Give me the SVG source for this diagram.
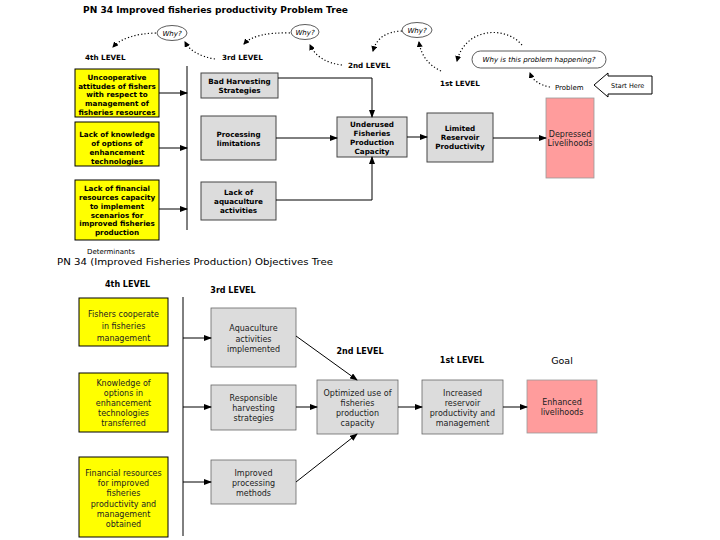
<svg xmlns="http://www.w3.org/2000/svg" width="720" height="540" viewBox="0 0 720 540">
<style>
text{font-family:"DejaVu Sans","Verdana",sans-serif;fill:#000}
.b{font-weight:bold;font-size:7.2px;text-anchor:middle}
.lv{font-weight:bold;font-size:7.2px}
.lv2{font-weight:bold;font-size:8px}
.n{font-size:8px;text-anchor:middle;fill:#222}
.it{font-style:italic;font-size:7px;text-anchor:middle}
.yel{fill:#ffff00;stroke:#000;stroke-width:1}
.gr{fill:#dcdcdc;stroke:#444;stroke-width:1}
.gr2{fill:#dcdcdc;stroke:#666;stroke-width:0.8}
.pk{fill:#ff9c9c;stroke:#999;stroke-width:0.8}
.ov{fill:#fff;stroke:#333;stroke-width:0.8}
.ln{fill:none;stroke:#000;stroke-width:1}
.dot{fill:none;stroke:#000;stroke-width:1.2;stroke-dasharray:1.2 2.2}
</style>
<defs>
<marker id="ah" markerWidth="8" markerHeight="6" refX="7" refY="3" orient="auto" markerUnits="userSpaceOnUse"><path d="M0,0 L8,3 L0,6 z" fill="#000"/></marker>
<marker id="dh" markerWidth="6" markerHeight="6" refX="5" refY="3" orient="auto" markerUnits="userSpaceOnUse"><path d="M0,0 L6,3 L0,6 z" fill="#000"/></marker>
</defs>

<text x="83" y="13" font-weight="bold" font-size="8.5" textLength="265" lengthAdjust="spacingAndGlyphs">PN 34 Improved fisheries productivity Problem Tree</text>

<g id="why1"><ellipse class="ov" cx="172" cy="33" rx="15" ry="7.5"/><text class="it" x="172" y="35.5">Why?</text></g>
<g id="why2"><ellipse class="ov" cx="305" cy="32" rx="14" ry="7.5"/><text class="it" x="305" y="34.5">Why?</text></g>
<g id="why3"><ellipse class="ov" cx="417" cy="30" rx="15" ry="7.5"/><text class="it" x="417" y="32.5">Why?</text></g>
<g id="why-main"><rect class="ov" x="472" y="51" width="134" height="17" rx="8.5"/><text class="it" x="539" y="62" font-size="7.3">Why is this problem happening?</text></g>

<text class="lv" x="85" y="60">4th LEVEL</text>
<text class="lv" x="222" y="60">3rd LEVEL</text>
<text class="lv" x="348" y="68">2nd LEVEL</text>
<text class="lv" x="440" y="86">1st LEVEL</text>
<text x="555" y="90" font-size="7">Problem</text>

<g id="start-here">
<path d="M594,85 L608,73 L608,76 L652,76 L652,94 L608,94 L608,97 z" fill="#fff" stroke="#000" stroke-width="1"/>
<text x="611" y="88" font-size="6.5">Start Here</text>
</g>

<g id="dotted">
<path class="dot" d="M215,59 Q192,55 185,42" marker-end="url(#dh)"/>
<path class="dot" d="M156,33 Q125,34 113,47" marker-end="url(#dh)"/>
<path class="dot" d="M342,65 Q318,62 310,45" marker-end="url(#dh)"/>
<path class="dot" d="M290,33 Q255,32 244,44" marker-end="url(#dh)"/>
<path class="dot" d="M441,71 Q422,62 419,42" marker-end="url(#dh)"/>
<path class="dot" d="M402,31 Q378,32 373,51" marker-end="url(#dh)"/>
<path class="dot" d="M522,45 C505,25 465,28 457,61" marker-end="url(#dh)"/>
<path class="dot" d="M550,87 Q534,84 530,73" marker-end="url(#dh)"/>
</g>

<g id="t-y1"><rect class="yel" x="75" y="69" width="84" height="48"/>
<text class="b" x="117" y="79.5">Uncooperative</text><text class="b" x="117" y="88.5">attitudes of fishers</text><text class="b" x="117" y="97">with respect to</text><text class="b" x="117" y="105.5">management of</text><text class="b" x="117" y="114.5">fisheries resources</text></g>
<g id="t-y2"><rect class="yel" x="75" y="122" width="84" height="44"/>
<text class="b" x="117" y="137">Lack of knowledge</text><text class="b" x="117" y="146">of options of</text><text class="b" x="117" y="155">enhancement</text><text class="b" x="117" y="164">technologies</text></g>
<g id="t-y3"><rect class="yel" x="75" y="180" width="84" height="60"/>
<text class="b" x="117" y="191">Lack of financial</text><text class="b" x="117" y="200">resources capacity</text><text class="b" x="117" y="209">to implement</text><text class="b" x="117" y="217.5">scenarios for</text><text class="b" x="117" y="226">improved fisheries</text><text class="b" x="117" y="235">production</text></g>

<g id="t-g1"><rect class="gr" x="201" y="73" width="77" height="25"/>
<text class="b" x="239.5" y="83.5">Bad Harvesting</text><text class="b" x="239.5" y="92.5">Strategies</text></g>
<g id="t-g2"><rect class="gr" x="201" y="116" width="75" height="44"/>
<text class="b" x="238.5" y="136.5">Processing</text><text class="b" x="238.5" y="145.5">limitations</text></g>
<g id="t-g3"><rect class="gr" x="201" y="182" width="75" height="38"/>
<text class="b" x="238.5" y="195">Lack of</text><text class="b" x="238.5" y="204">aquaculture</text><text class="b" x="238.5" y="213">activities</text></g>
<g id="t-under"><rect class="gr" x="337" y="117" width="70" height="40"/>
<text class="b" x="372" y="127">Underused</text><text class="b" x="372" y="136">Fisheries</text><text class="b" x="372" y="145">Production</text><text class="b" x="372" y="154">Capacity</text></g>
<g id="t-limited"><rect class="gr" x="427" y="113" width="66" height="49"/>
<text class="b" x="460" y="131">Limited</text><text class="b" x="460" y="140">Reservoir</text><text class="b" x="460" y="149">Productivity</text></g>
<g id="t-depressed"><rect class="pk" x="546" y="98" width="48" height="80"/>
<text class="n" x="570" y="137" font-size="7.5">Depressed</text><text class="n" x="570" y="146" font-size="7.5">Livelihoods</text></g>

<text x="87" y="254" font-size="7" fill="#222">Determinants</text>

<g id="top-connectors">
<line class="ln" x1="187" y1="66" x2="187" y2="230"/>
<line class="ln" x1="159" y1="93" x2="187" y2="93" marker-end="url(#ah)"/>
<line class="ln" x1="159" y1="148" x2="187" y2="148" marker-end="url(#ah)"/>
<line class="ln" x1="159" y1="209" x2="187" y2="209" marker-end="url(#ah)"/>
<path class="ln" d="M278,78 L372,78 L372,117" marker-end="url(#ah)"/>
<line class="ln" x1="276" y1="138" x2="337" y2="138" marker-end="url(#ah)"/>
<path class="ln" d="M276,200 L372,200 L372,157" marker-end="url(#ah)"/>
<line class="ln" x1="407" y1="137" x2="427" y2="137" marker-end="url(#ah)"/>
<line class="ln" x1="493" y1="138" x2="546" y2="138" marker-end="url(#ah)"/>
</g>

<text x="57" y="265" font-size="9.5" fill="#222" textLength="276" lengthAdjust="spacingAndGlyphs">PN 34 (Improved Fisheries Production) Objectives Tree</text>

<text class="lv2" x="105" y="287">4th LEVEL</text>
<text class="lv2" x="233" y="293" text-anchor="middle">3rd LEVEL</text>
<text class="lv2" x="360" y="354" text-anchor="middle">2nd LEVEL</text>
<text class="lv2" x="462" y="363" text-anchor="middle">1st LEVEL</text>
<text x="562" y="364" font-size="9.5" text-anchor="middle" fill="#222">Goal</text>

<g id="o-y1"><rect class="yel" x="79" y="298" width="89" height="48"/>
<text class="n" x="123.5" y="317">Fishers cooperate</text><text class="n" x="123.5" y="329">in fisheries</text><text class="n" x="123.5" y="341">management</text></g>
<g id="o-y2"><rect class="yel" x="79" y="373" width="89" height="59"/>
<text class="n" x="123.5" y="386">Knowledge of</text><text class="n" x="123.5" y="396">options in</text><text class="n" x="123.5" y="406">enhancement</text><text class="n" x="123.5" y="416">technologies</text><text class="n" x="123.5" y="426">transferred</text></g>
<g id="o-y3"><rect class="yel" x="79" y="457" width="89" height="80"/>
<text class="n" x="123.5" y="476">Financial resources</text><text class="n" x="123.5" y="486">for improved</text><text class="n" x="123.5" y="496">fisheries</text><text class="n" x="123.5" y="506.5">productivity and</text><text class="n" x="123.5" y="517">management</text><text class="n" x="123.5" y="527">obtained</text></g>

<g id="o-g1"><rect class="gr2" x="211" y="308" width="85" height="59"/>
<text class="n" x="253.5" y="331">Aquaculture</text><text class="n" x="253.5" y="342">activities</text><text class="n" x="253.5" y="352">implemented</text></g>
<g id="o-g2"><rect class="gr2" x="211" y="385" width="85" height="45"/>
<text class="n" x="253.5" y="401">Responsible</text><text class="n" x="253.5" y="411">harvesting</text><text class="n" x="253.5" y="421">strategies</text></g>
<g id="o-g3"><rect class="gr2" x="211" y="460" width="85" height="44"/>
<text class="n" x="253.5" y="476">Improved</text><text class="n" x="253.5" y="486">processing</text><text class="n" x="253.5" y="496">methods</text></g>
<g id="o-opt"><rect class="gr2" x="317" y="380" width="81" height="54"/>
<text class="n" x="357.5" y="396">Optimized use of</text><text class="n" x="357.5" y="406">fisheries</text><text class="n" x="357.5" y="416">production</text><text class="n" x="357.5" y="426">capacity</text></g>
<g id="o-inc"><rect class="gr2" x="422" y="380" width="81" height="54"/>
<text class="n" x="462.5" y="396">Increased</text><text class="n" x="462.5" y="406">reservoir</text><text class="n" x="462.5" y="416">productivity and</text><text class="n" x="462.5" y="426">management</text></g>
<g id="o-goal"><rect class="pk" x="527" y="380" width="70" height="53"/>
<text class="n" x="562" y="405">Enhanced</text><text class="n" x="562" y="415">livelihoods</text></g>

<g id="bottom-connectors">
<line class="ln" x1="183" y1="297" x2="183" y2="536"/>
<line class="ln" x1="183" y1="338" x2="211" y2="338" marker-end="url(#ah)"/>
<line class="ln" x1="183" y1="407" x2="211" y2="407" marker-end="url(#ah)"/>
<line class="ln" x1="183" y1="482" x2="211" y2="482" marker-end="url(#ah)"/>
<line class="ln" x1="296" y1="336" x2="357" y2="380" marker-end="url(#ah)"/>
<line class="ln" x1="296" y1="407" x2="317" y2="407" marker-end="url(#ah)"/>
<line class="ln" x1="296" y1="482" x2="357" y2="434" marker-end="url(#ah)"/>
<line class="ln" x1="398" y1="407" x2="422" y2="407" marker-end="url(#ah)"/>
<line class="ln" x1="503" y1="407" x2="527" y2="407" marker-end="url(#ah)"/>
</g>
</svg>
